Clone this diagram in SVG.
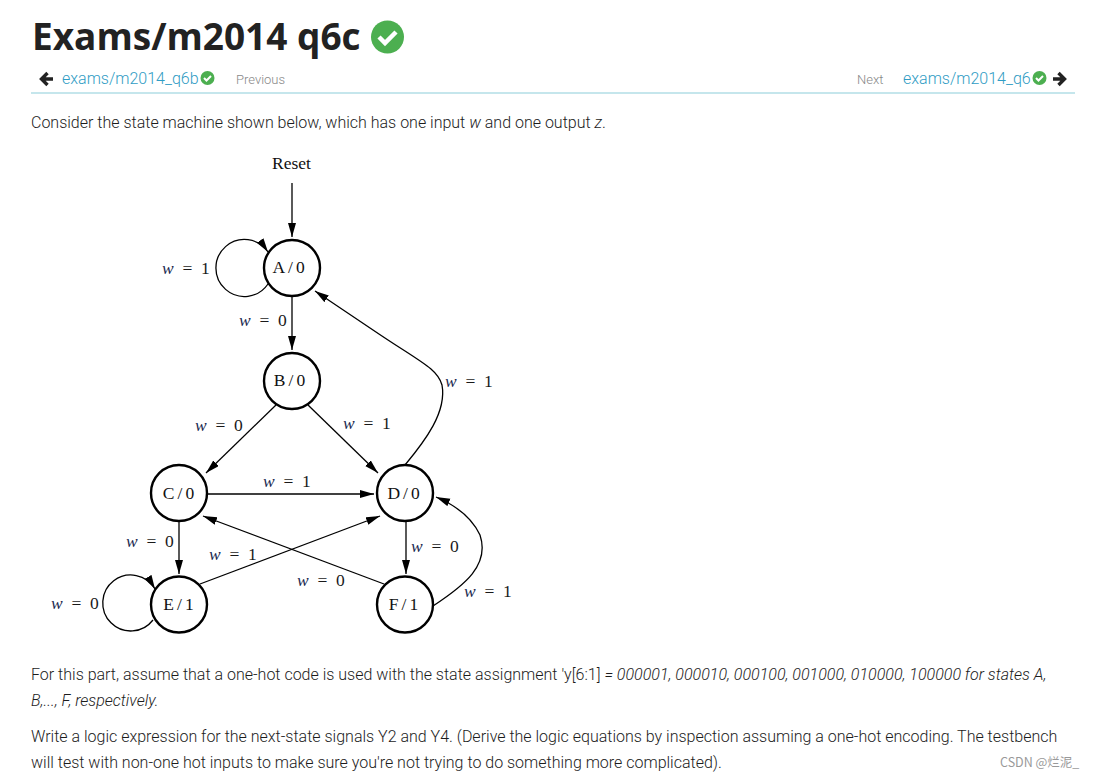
<svg xmlns="http://www.w3.org/2000/svg" width="1096" height="778" viewBox="0 0 1096 778">
<style>
.b{font:300 16px Roboto,sans-serif;fill:#1c1c1c}
.i{font-style:italic}
.l{font:300 16px Roboto,sans-serif;fill:#2f9cc4}
.g{font:300 13px Roboto,sans-serif;fill:#888}
.s{font:17.500px "Liberation Serif",serif;fill:#111}
.n{font:17.500px "Liberation Serif",serif;fill:#111;text-anchor:middle;letter-spacing:3px}
.w{font:17.500px "Liberation Serif",serif;fill:#1a1a1a}
.w tspan{font-style:italic;fill:#1a2a50}
.st{fill:#fff;stroke:#000;stroke-width:2.4}
.c{fill:none;stroke:#000;stroke-width:1.3}
.nav{fill:none;stroke:#222;stroke-width:3.4}
.ok{fill:#4caf50}
.ck{fill:none;stroke:#fff}
</style>
<defs><marker id="a" markerUnits="userSpaceOnUse" markerWidth="16" markerHeight="10" refX="14" refY="4" orient="auto"><path d="M0 0L14 4L0 8z" fill="#000"/></marker></defs>
<rect width="1096" height="778" fill="#fff"/>
<g id="header">
<text x="32" y="50" style="font:bold 37px 'Open Sans',sans-serif;fill:#222">Exams/m2014 q6c</text>
<circle class="ok" cx="387.500" cy="37" r="16.500"/><path class="ck" stroke-width="4.500" d="M379 37l6 6l11-11"/>
<path class="nav" d="M53 79H43M47.500 73l-6 6l6 6"/>
<text class="l" x="62" y="84">exams/m2014_q6b</text>
<circle class="ok" cx="207.500" cy="78" r="7"/><path class="ck" stroke-width="2" d="M204 78l2.500 2.500l4.500-4.500"/>
<text class="g" x="236" y="84">Previous</text>
<text class="g" x="857" y="84">Next</text>
<text class="l" x="903" y="84">exams/m2014_q6</text>
<circle class="ok" cx="1039.500" cy="78" r="7"/><path class="ck" stroke-width="2" d="M1036 78l2.500 2.500l4.500-4.500"/>
<path class="nav" d="M1053 79H1063M1058.500 73l6 6l-6 6"/>
<rect x="31" y="92" width="1044" height="2" fill="#c5e6ec"/>
</g>
<text class="b" x="31" y="128">Consider the state machine shown below, which has one input <tspan class="i">w</tspan> and one output <tspan class="i">z</tspan>.</text>
<g id="connectors">
<path class="c" marker-end="url(#a)" d="M292 183V237"/>
<path class="c" marker-end="url(#a)" d="M268 284A28.500 28.500 0 1 1 268 252"/>
<path class="c" marker-end="url(#a)" d="M292 297V350"/>
<path class="c" marker-end="url(#a)" d="M276 405L206 473"/>
<path class="c" marker-end="url(#a)" d="M308 405L378 473"/>
<path class="c" marker-end="url(#a)" d="M208 494H374"/>
<path class="c" marker-end="url(#a)" d="M179 522V574"/>
<path class="c" marker-end="url(#a)" d="M406 522V574"/>
<path class="c" marker-end="url(#a)" d="M200 584L380 516"/>
<path class="c" marker-end="url(#a)" d="M384 584L203 516"/>
<path class="c" marker-end="url(#a)" d="M405 465C425 441 447 412 442 385C437 368 420 362 373 330L315 291"/>
<path class="c" marker-end="url(#a)" d="M433 606C465 585 490 565 480 535C472 518 455 505 436 497"/>
<path class="c" marker-end="url(#a)" d="M153 620A28 28 0 1 1 155 589"/>
</g>
<g id="reset"><text class="s" x="272" y="169">Reset</text></g>
<g id="A"><circle class="st" cx="292" cy="268" r="28"/><text class="n" x="290" y="273">A/0</text></g>
<g id="B"><circle class="st" cx="292" cy="381" r="28"/><text class="n" x="291" y="386">B/0</text></g>
<g id="C"><circle class="st" cx="179" cy="493" r="28"/><text class="n" x="180" y="499">C/0</text></g>
<g id="D"><circle class="st" cx="405" cy="493" r="28"/><text class="n" x="405" y="499">D/0</text></g>
<g id="E"><circle class="st" cx="179" cy="604.500" r="28"/><text class="n" x="180" y="610">E/1</text></g>
<g id="F"><circle class="st" cx="405" cy="604.500" r="28"/><text class="n" x="405" y="610">F/1</text></g>
<g id="labels">
<text class="w" x="162" y="274" xml:space="preserve"><tspan>w</tspan>  =  1</text>
<text class="w" x="239" y="326" xml:space="preserve"><tspan>w</tspan>  =  0</text>
<text class="w" x="445" y="387" xml:space="preserve"><tspan>w</tspan>  =  1</text>
<text class="w" x="195" y="431" xml:space="preserve"><tspan>w</tspan>  =  0</text>
<text class="w" x="343" y="429" xml:space="preserve"><tspan>w</tspan>  =  1</text>
<text class="w" x="263" y="487" xml:space="preserve"><tspan>w</tspan>  =  1</text>
<text class="w" x="126" y="547" xml:space="preserve"><tspan>w</tspan>  =  0</text>
<text class="w" x="209" y="560" xml:space="preserve"><tspan>w</tspan>  =  1</text>
<text class="w" x="411" y="552" xml:space="preserve"><tspan>w</tspan>  =  0</text>
<text class="w" x="297" y="586" xml:space="preserve"><tspan>w</tspan>  =  0</text>
<text class="w" x="464" y="597" xml:space="preserve"><tspan>w</tspan>  =  1</text>
<text class="w" x="51" y="609" xml:space="preserve"><tspan>w</tspan>  =  0</text>
</g>
<text class="b" x="31" y="680">For this part, assume that a one-hot code is used with the state assignment 'y[6:1] <tspan class="i">= 000001, 000010, 000100, 001000, 010000, 100000 for states A,</tspan></text>
<text class="b i" x="31" y="706">B,..., F, respectively.</text>
<text class="b" x="31" y="742">Write a logic expression for the next-state signals Y2 and Y4. (Derive the logic equations by inspection assuming a one-hot encoding. The testbench</text>
<text class="b" x="31" y="768">will test with non-one hot inputs to make sure you're not trying to do something more complicated).</text>
<text x="1000" y="767" style="font:12.500px 'Noto Sans CJK SC',sans-serif;fill:#999">CSDN @烂泥_</text>
</svg>
